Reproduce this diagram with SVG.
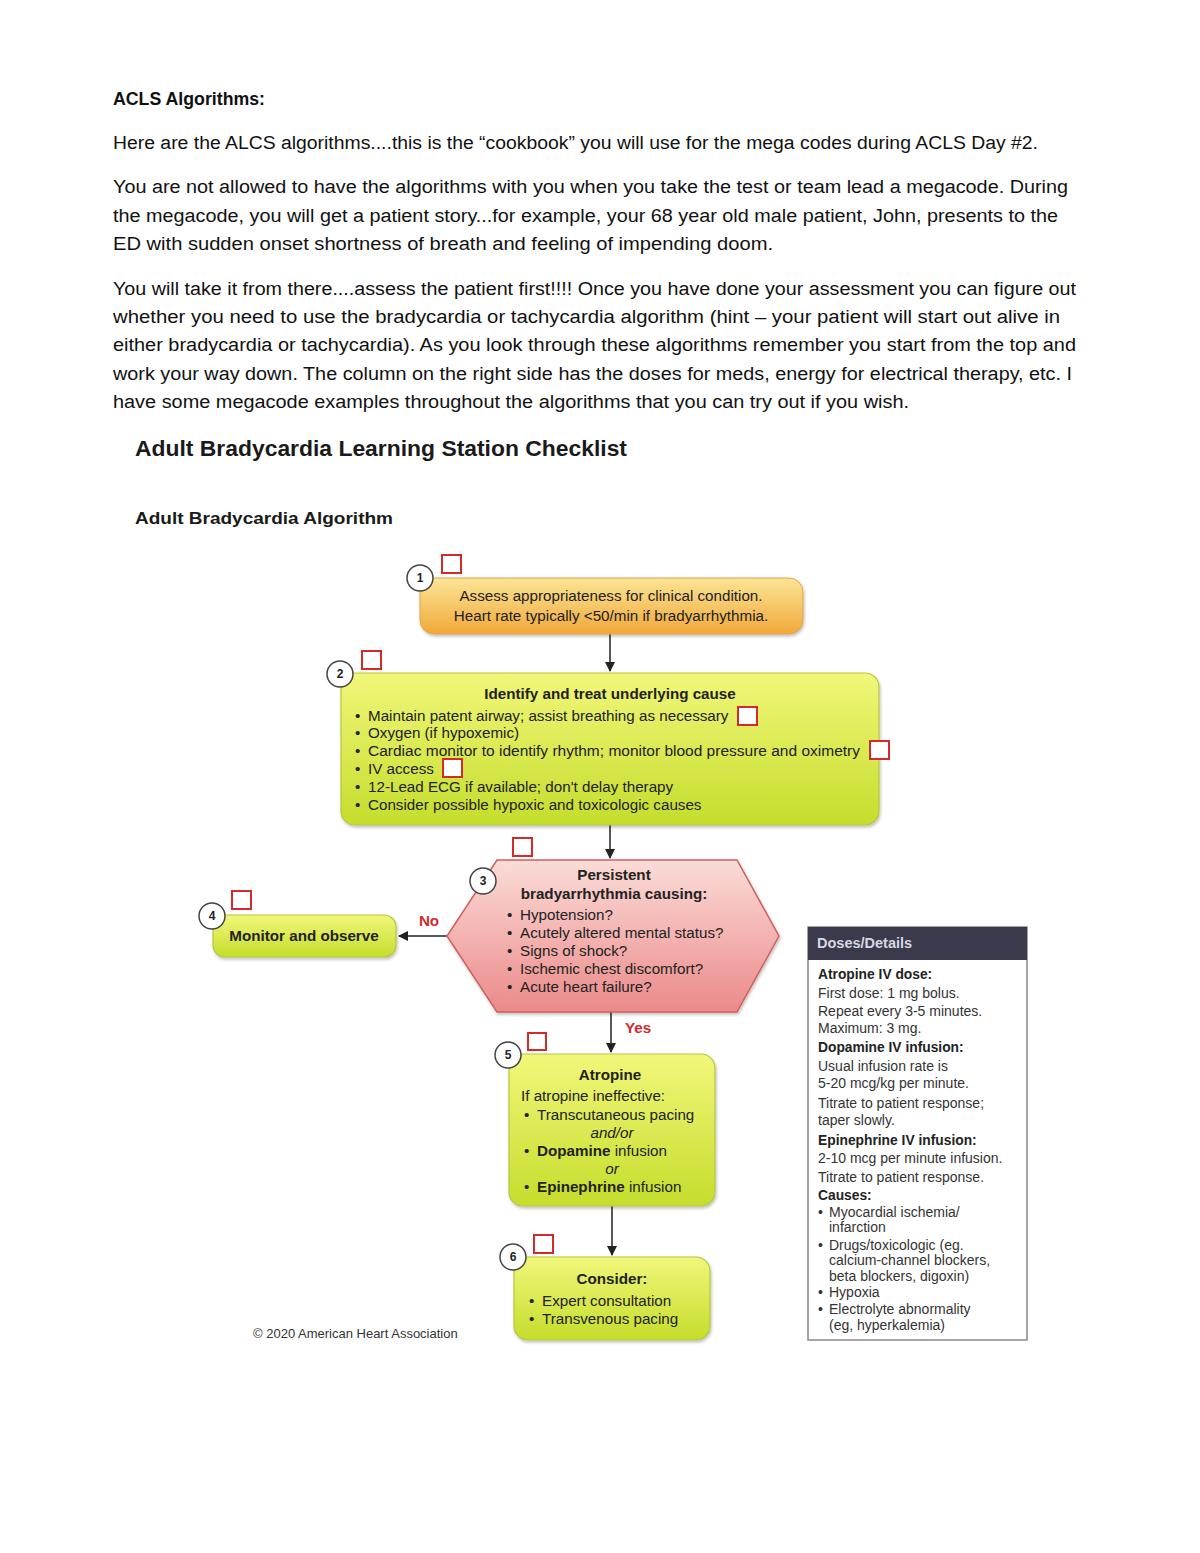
<svg xmlns="http://www.w3.org/2000/svg" width="1200" height="1553" viewBox="0 0 1200 1553">
<defs>
<linearGradient id="gOrange" x1="0" y1="0" x2="0" y2="1"><stop offset="0" stop-color="#fbe596"/><stop offset="1" stop-color="#f1a83a"/></linearGradient>
<linearGradient id="gGreen" x1="0" y1="0" x2="0" y2="1"><stop offset="0" stop-color="#f1f77a"/><stop offset="1" stop-color="#c5dd2c"/></linearGradient>
<linearGradient id="gRed" x1="0" y1="0" x2="0" y2="1"><stop offset="0" stop-color="#fbdcd8"/><stop offset="1" stop-color="#eb8a8a"/></linearGradient>
<marker id="arr" viewBox="0 0 10 10" refX="9" refY="5" markerWidth="7" markerHeight="7" orient="auto-start-reverse"><path d="M0,0 L10,5 L0,10 z" fill="#222"/></marker>
<filter id="sh" x="-5%" y="-5%" width="110%" height="120%"><feDropShadow dx="1" dy="2" stdDeviation="1.5" flood-color="#000" flood-opacity="0.25"/></filter>
</defs>
<style>
.doc{font-family:"Liberation Sans",Arial,sans-serif;font-size:18px;fill:#111}
.alg{font-family:"Liberation Sans",Arial,sans-serif;font-size:15.2px;fill:#222}
.b{font-weight:bold}
.box{stroke:#b7c63c;stroke-width:1.2;fill:url(#gGreen);filter:url(#sh)}
.num{fill:#fff;stroke:#444;stroke-width:1.5}
.numt{font-family:"Liberation Sans",Arial,sans-serif;font-size:12px;font-weight:bold;fill:#222;text-anchor:middle}
.chk{fill:#fff;stroke:#d42a2a;stroke-width:2}
.con{stroke:#222;stroke-width:1.5;fill:none;marker-end:url(#arr)}
.dd{font-family:"Liberation Sans",Arial,sans-serif;font-size:14px;fill:#333}
.ddb{font-size:13.8px;font-weight:bold;fill:#222}
.mid{text-anchor:middle}
</style>
<rect width="1200" height="1553" fill="#fff"/>

<g id="intro">
<text class="doc b" x="113" y="105" textLength="152" lengthAdjust="spacingAndGlyphs">ACLS Algorithms:</text>
<text class="doc" x="113" y="149" textLength="925" lengthAdjust="spacingAndGlyphs">Here are the ALCS algorithms....this is the “cookbook” you will use for the mega codes during ACLS Day #2.</text>
<text class="doc" x="113" y="193" textLength="955" lengthAdjust="spacingAndGlyphs">You are not allowed to have the algorithms with you when you take the test or team lead a megacode. During</text>
<text class="doc" x="113" y="222" textLength="945" lengthAdjust="spacingAndGlyphs">the megacode, you will get a patient story...for example, your 68 year old male patient, John, presents to the</text>
<text class="doc" x="113" y="250" textLength="660" lengthAdjust="spacingAndGlyphs">ED with sudden onset shortness of breath and feeling of impending doom.</text>
<text class="doc" x="113" y="295" textLength="963" lengthAdjust="spacingAndGlyphs">You will take it from there....assess the patient first!!!! Once you have done your assessment you can figure out</text>
<text class="doc" x="113" y="323" textLength="947" lengthAdjust="spacingAndGlyphs">whether you need to use the bradycardia or tachycardia algorithm (hint – your patient will start out alive in</text>
<text class="doc" x="113" y="351" textLength="963" lengthAdjust="spacingAndGlyphs">either bradycardia or tachycardia). As you look through these algorithms remember you start from the top and</text>
<text class="doc" x="113" y="380" textLength="959" lengthAdjust="spacingAndGlyphs">work your way down.  The column on the right side has the doses for meds, energy for electrical therapy, etc. I</text>
<text class="doc" x="113" y="408" textLength="796" lengthAdjust="spacingAndGlyphs">have some megacode examples throughout the algorithms that you can try out if you wish.</text>
</g>

<g id="titles">
<text x="135" y="456" font-family="'Liberation Sans',Arial,sans-serif" font-size="22" font-weight="bold" fill="#1a1a1a" textLength="492" lengthAdjust="spacingAndGlyphs">Adult Bradycardia Learning Station Checklist</text>
<text x="135" y="524" font-family="'Liberation Sans',Arial,sans-serif" font-size="17" font-weight="bold" fill="#1a1a1a" textLength="258" lengthAdjust="spacingAndGlyphs">Adult Bradycardia Algorithm</text>
</g>

<g id="connectors">
<line class="con" x1="610" y1="634" x2="610" y2="671"/>
<line class="con" x1="610" y1="825" x2="610" y2="858"/>
<line class="con" x1="447" y1="936" x2="399" y2="936"/>
<line class="con" x1="611" y1="1012" x2="611" y2="1052"/>
<line class="con" x1="612" y1="1206" x2="612" y2="1255"/>
<text x="429" y="926" class="alg b mid" style="fill:#d42a2a">No</text>
<text x="638" y="1033" class="alg b mid" style="fill:#d42a2a">Yes</text>
</g>

<g id="node1">
<rect x="420" y="578" width="383" height="56" rx="14" fill="url(#gOrange)" stroke="#e4a24a" stroke-width="1" filter="url(#sh)"/>
<text class="alg mid" x="611" y="601">Assess appropriateness for clinical condition.</text>
<text class="alg mid" x="611" y="621">Heart rate typically &lt;50/min if bradyarrhythmia.</text>
<circle class="num" cx="420" cy="578" r="13"/><text class="numt" x="420" y="582">1</text>
<rect class="chk" x="442" y="555" width="19" height="18"/>
</g>

<g id="node2">
<rect class="box" x="341" y="673" width="538" height="152" rx="14"/>
<text class="alg b mid" x="610" y="699">Identify and treat underlying cause</text>
<g class="alg">
<text x="355" y="721">•</text><text x="368" y="721">Maintain patent airway; assist breathing as necessary</text>
<text x="355" y="738">•</text><text x="368" y="738">Oxygen (if hypoxemic)</text>
<text x="355" y="756">•</text><text x="368" y="756" textLength="492" lengthAdjust="spacingAndGlyphs">Cardiac monitor to identify rhythm; monitor blood pressure and oximetry</text>
<text x="355" y="774">•</text><text x="368" y="774">IV access</text>
<text x="355" y="792">•</text><text x="368" y="792">12-Lead ECG if available; don't delay therapy</text>
<text x="355" y="810">•</text><text x="368" y="810">Consider possible hypoxic and toxicologic causes</text>
</g>
<circle class="num" cx="340" cy="674" r="13"/><text class="numt" x="340" y="678">2</text>
<rect class="chk" x="362" y="651" width="19" height="18"/>
<rect class="chk" x="738" y="707" width="19" height="18"/>
<rect class="chk" x="870" y="741" width="19" height="18"/>
<rect class="chk" x="443" y="759" width="19" height="18"/>
</g>

<g id="node3">
<polygon points="497,860 737,860 779,936 737,1012 497,1012 447,936" fill="url(#gRed)" stroke="#d0605a" stroke-width="1.5" filter="url(#sh)"/>
<text class="alg b mid" x="614" y="880">Persistent</text>
<text class="alg b mid" x="614" y="899">bradyarrhythmia causing:</text>
<g class="alg">
<text x="507" y="920">•</text><text x="520" y="920">Hypotension?</text>
<text x="507" y="938">•</text><text x="520" y="938">Acutely altered mental status?</text>
<text x="507" y="956">•</text><text x="520" y="956">Signs of shock?</text>
<text x="507" y="974">•</text><text x="520" y="974">Ischemic chest discomfort?</text>
<text x="507" y="992">•</text><text x="520" y="992">Acute heart failure?</text>
</g>
<circle class="num" cx="483" cy="881" r="13"/><text class="numt" x="483" y="885">3</text>
<rect class="chk" x="513" y="838" width="19" height="18"/>
</g>

<g id="node4">
<rect class="box" x="213" y="915" width="183" height="42" rx="12"/>
<text class="alg b mid" x="304" y="941">Monitor and observe</text>
<circle class="num" cx="212" cy="916" r="13"/><text class="numt" x="212" y="920">4</text>
<rect class="chk" x="232" y="891" width="19" height="18"/>
</g>

<g id="node5">
<rect class="box" x="509" y="1054" width="206" height="152" rx="14"/>
<text class="alg b mid" x="610" y="1080">Atropine</text>
<g class="alg">
<text x="521" y="1101">If atropine ineffective:</text>
<text x="524" y="1120">•</text><text x="537" y="1120">Transcutaneous pacing</text>
<text x="612" y="1138" class="mid" font-style="italic">and/or</text>
<text x="524" y="1156">•</text><text x="537" y="1156"><tspan font-weight="bold">Dopamine</tspan> infusion</text>
<text x="612" y="1174" class="mid" font-style="italic">or</text>
<text x="524" y="1192">•</text><text x="537" y="1192"><tspan font-weight="bold">Epinephrine</tspan> infusion</text>
</g>
<circle class="num" cx="508" cy="1055" r="13"/><text class="numt" x="508" y="1059">5</text>
<rect class="chk" x="528" y="1033" width="18" height="17"/>
</g>

<g id="node6">
<rect class="box" x="514" y="1257" width="196" height="83" rx="14"/>
<text class="alg b mid" x="612" y="1284">Consider:</text>
<g class="alg">
<text x="529" y="1306">•</text><text x="542" y="1306">Expert consultation</text>
<text x="529" y="1324">•</text><text x="542" y="1324">Transvenous pacing</text>
</g>
<circle class="num" cx="513" cy="1257" r="13"/><text class="numt" x="513" y="1261">6</text>
<rect class="chk" x="534" y="1235" width="19" height="18"/>
</g>

<g id="copyright">
<text x="253" y="1338" font-family="'Liberation Sans',Arial,sans-serif" font-size="13" fill="#333">© 2020 American Heart Association</text>
</g>

<g id="doses">
<rect x="808" y="927" width="219" height="413" fill="#fff" stroke="#888" stroke-width="1.5"/>
<rect x="808" y="927" width="219" height="33" fill="#3b3a4c"/>
<text x="817" y="948" font-family="'Liberation Sans',Arial,sans-serif" font-size="14.5" font-weight="bold" fill="#d8d8e0">Doses/Details</text>
<g class="dd">
<text x="818" y="979" class="ddb">Atropine IV dose:</text>
<text x="818" y="998">First dose: 1 mg bolus.</text>
<text x="818" y="1016">Repeat every 3-5 minutes.</text>
<text x="818" y="1033">Maximum: 3 mg.</text>
<text x="818" y="1052" class="ddb">Dopamine IV infusion:</text>
<text x="818" y="1071">Usual infusion rate is</text>
<text x="818" y="1088">5-20 mcg/kg per minute.</text>
<text x="818" y="1108">Titrate to patient response;</text>
<text x="818" y="1125">taper slowly.</text>
<text x="818" y="1145" class="ddb">Epinephrine IV infusion:</text>
<text x="818" y="1163">2-10 mcg per minute infusion.</text>
<text x="818" y="1182">Titrate to patient response.</text>
<text x="818" y="1200" class="ddb">Causes:</text>
<text x="818" y="1217">•</text><text x="829" y="1217">Myocardial ischemia/</text>
<text x="829" y="1232">infarction</text>
<text x="818" y="1250">•</text><text x="829" y="1250">Drugs/toxicologic (eg.</text>
<text x="829" y="1265">calcium-channel blockers,</text>
<text x="829" y="1281">beta blockers, digoxin)</text>
<text x="818" y="1297">•</text><text x="829" y="1297">Hypoxia</text>
<text x="818" y="1314">•</text><text x="829" y="1314">Electrolyte abnormality</text>
<text x="829" y="1330">(eg, hyperkalemia)</text>
</g>
</g>
</svg>
